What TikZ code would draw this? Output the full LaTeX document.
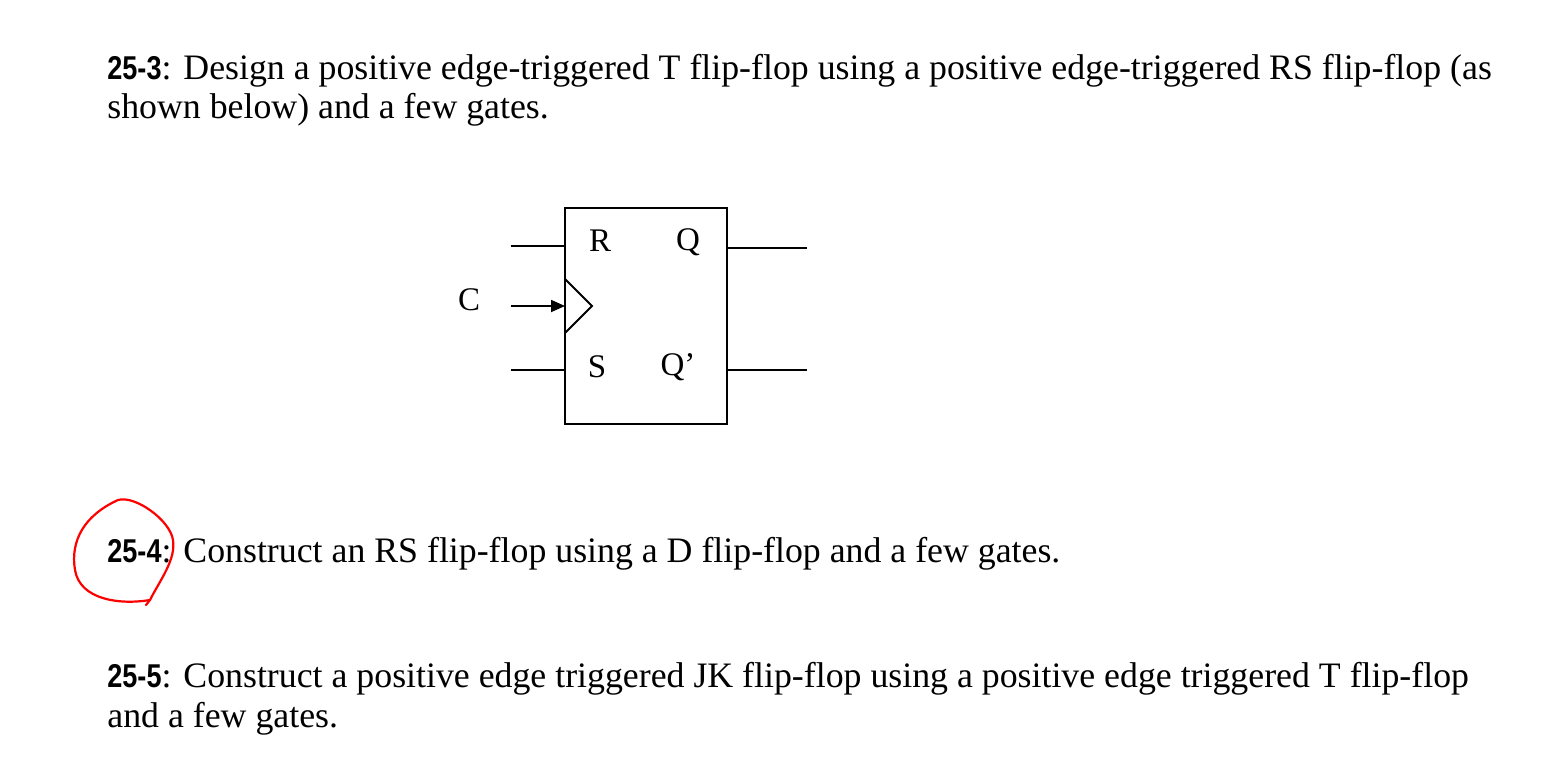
\documentclass[tikz,border=0pt]{standalone}
\usepackage{fontspec}
\setmainfont{Liberation Serif}
\newfontfamily\lbl{Liberation Sans}[FakeStretch=0.82]
\usetikzlibrary{arrows.meta}
\begin{document}
\begin{tikzpicture}[x=0.5pt,y=-0.5pt,
  txt/.style={anchor=base west,inner sep=0,font=\fontsize{17.9}{20}\selectfont},
  lab/.style={inner sep=0,font=\fontsize{16.5}{20}\selectfont},
  wire/.style={line width=0.9pt}]
\useasboundingbox (0,0) rectangle (1566,759);
\node[txt] (l1) at (107,80) {{\lbl\fontsize{16.5}{20}\selectfont\bfseries 25-3}: Design a positive edge-triggered T flip-flop using a positive edge-triggered RS flip-flop (as};
\node[txt] (l2) at (107,119) {shown below) and a few gates.};
\node[txt] (l3) at (107,562) {{\lbl\fontsize{16.5}{20}\selectfont\bfseries 25-4}: Construct an RS flip-flop using a D flip-flop and a few gates.};
\node[txt] (l4) at (107,687) {{\lbl\fontsize{16.5}{20}\selectfont\bfseries 25-5}: Construct a positive edge triggered JK flip-flop using a positive edge triggered T flip-flop};
\node[txt] (l5) at (107,727) {and a few gates.};
% flip-flop
\node[draw,wire,minimum width=81pt,minimum height=108pt,inner sep=0] (ff) at (646,316) {};
\coordinate (ri) at (511,246); \coordinate (rb) at (565,246);
\coordinate (si) at (511,370); \coordinate (sb) at (565,370);
\coordinate (qa) at (727,248); \coordinate (qo) at (807,248);
\coordinate (qba) at (727,370); \coordinate (qbo) at (807,370);
\coordinate (ci) at (511,306); \coordinate (cb) at (565,306);
\draw[wire] (ri) -- (rb); \draw[wire] (si) -- (sb);
\draw[wire] (qa) -- (qo); \draw[wire] (qba) -- (qbo);
\draw[wire,-{Triangle[length=7pt,width=6pt]}] (ci) -- (cb);
\draw[wire] (565,279) -- (592,306) -- (565,333);
\node[lab] (C) at (469,300) {C};
\node[lab] (R) at (600,241) {R};
\node[lab] (Q) at (688,242) {Q};
\node[lab] (S) at (597,367) {S};
\node[lab] (Qb) at (678,367) {Q’};
% red circle
\draw[red,line width=1.1pt,line cap=round] (150,600) .. controls (120,605) and (80,600) .. (75,570)
  .. controls (70,540) and (85,515) .. (118,500)
  .. controls (135,495) and (170,520) .. (173,540)
  .. controls (176,560) and (160,580) .. (150,600) -- (146,605);
\end{tikzpicture}
\end{document}
